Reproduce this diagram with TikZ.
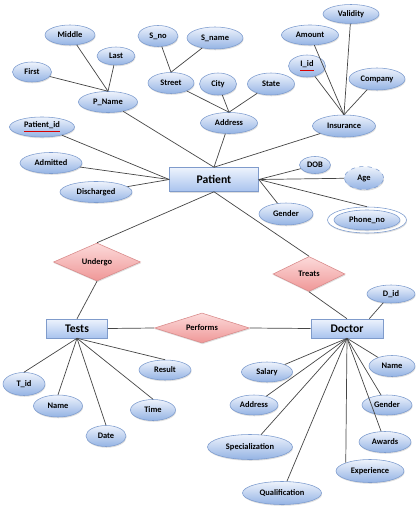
\documentclass[tikz,border=0pt]{standalone}
\usepackage{fontspec}
\setmainfont{Carlito}
\usetikzlibrary{shapes.geometric,shadows}

\definecolor{attrtop}{HTML}{EEF3FC}
\definecolor{attrbot}{HTML}{94B3E4}
\definecolor{attrline}{HTML}{7C9BCE}
\definecolor{enttop}{HTML}{EDF3FD}
\definecolor{entbot}{HTML}{A9C3EE}
\definecolor{entline}{HTML}{7F9BCB}
\definecolor{reltop}{HTML}{FCDADA}
\definecolor{relbot}{HTML}{EF9797}
\definecolor{relline}{HTML}{D88A8A}
\definecolor{edge}{HTML}{454545}

\newcommand{\errline}[1]{\rlap{#1}{\color{red!85!black}\underline{\phantom{#1}}}}

\tikzset{wh/.style 2 args={minimum width=#1*0.025cm, minimum height=#2*0.025cm}}

\begin{document}
\begin{tikzpicture}
[x=0.025cm, y=-0.025cm, font=\fontsize{6}{7}\selectfont\bfseries]
\tikzstyle{soft}=[drop shadow={shadow xshift=0.4pt, shadow yshift=-0.9pt, opacity=0.25}]
\tikzstyle{attr}=[ellipse, draw=attrline, top color=attrtop, bottom color=attrbot, inner sep=0mm, soft]
\tikzstyle{entity}=[rectangle, draw=entline, top color=enttop, bottom color=entbot, inner sep=0mm, soft, font=\fontsize{8.3}{9}\selectfont\bfseries]
\tikzstyle{rel}=[diamond, draw=relline, top color=reltop, bottom color=relbot, inner sep=0mm, soft]
\tikzstyle{link}=[draw=edge, line width=0.5pt]

\useasboundingbox (0,0) rectangle (420,512);

% entities and relationships
\node[entity, wh={89}{24}]	(Patient)	at (214,179.5)	{Patient};
\node[entity, wh={61}{19}]	(Tests)		at (77,328.5)	{Tests};
\node[entity, wh={72}{19}]	(Doctor)	at (347,328.5)	{Doctor};
\node[rel, wh={87}{38}, aspect=2.3]	(Undergo)	at (97,262)	{Undergo};
\node[rel, wh={72}{35}, aspect=2.05]	(Treats)	at (309,274)	{Treats};
\node[rel, wh={95}{30}, aspect=3.2]	(Performs)	at (202,328)	{Performs};

% patient attributes
\node[attr, wh={50}{20}]	(Middle)	at (70,35)	{Middle};
\node[attr, wh={38}{18}]	(Last)		at (116,56)	{Last};
\node[attr, wh={39}{20}]	(First)		at (32,72)	{First};
\node[attr, wh={59}{21}]	(P_Name)	at (108,102)	{P\_Name};
\node[attr, wh={40}{21}]	(S_no)		at (158,36)	{S\_no};
\node[attr, wh={56}{22}]	(S_name)	at (215,38)	{S\_name};
\node[attr, wh={46}{21}]	(Street)	at (171,83)	{Street};
\node[attr, wh={37}{22}]	(City)		at (218,84)	{City};
\node[attr, wh={47}{22}]	(State)		at (271,84)	{State};
\node[attr, wh={57}{21}]	(Address)	at (229,123)	{Address};
\node[attr, wh={56}{19}]	(Validity)	at (351,14)	{Validity};
\node[attr, wh={57}{20}]	(Amount)	at (310,35)	{Amount};
\node[attr, wh={37}{22}]	(I_id)		at (307,66)	{\errline{I\_id}};
\node[attr, wh={56}{22}]	(Company)	at (377,79)	{Company};
\node[attr, wh={63}{22}]	(Insurance)	at (344,126)	{Insurance};
\node[attr, wh={65}{20}]	(Patient_id)	at (42,127)	{\errline{Patient\_id}};
\node[attr, wh={62}{21}]	(Admitted)	at (51,163)	{Admitted};
\node[attr, wh={72}{21}]	(Discharged)	at (96,192)	{Discharged};
\node[attr, wh={31}{17}]	(DOB)		at (315,165)	{DOB};
\node[attr, wh={39}{23}, dashed]	(Age)	at (364,178)	{Age};
\node[attr, wh={54}{22}]	(Gender)	at (286,214)	{Gender};
\node[ellipse, draw=attrline, fill=white, wh={79}{26}, soft]	(Phone)	at (367,220)	{};
\node[attr, wh={66}{20}]	(Phone_no)	at (367,220)	{Phone\_no};

% test attributes
\node[attr, wh={42}{23}]	(T_id)		at (24,384)	{T\_id};
\node[attr, wh={49}{22}]	(T_name)	at (58,406)	{Name};
\node[attr, wh={40}{21}]	(T_date)	at (106,436)	{Date};
\node[attr, wh={45}{21}]	(T_time)	at (153,410)	{Time};
\node[attr, wh={52}{20}]	(T_result)	at (165,370)	{Result};

% doctor attributes
\node[attr, wh={48}{18}]	(D_id)		at (391,294)	{D\_id};
\node[attr, wh={51}{20}]	(D_salary)	at (267,372)	{Salary};
\node[attr, wh={46}{21}]	(D_name)	at (392,366)	{Name};
\node[attr, wh={48}{20}]	(D_address)	at (254,405)	{Address};
\node[attr, wh={50}{20}]	(D_gender)	at (387,405)	{Gender};
\node[attr, wh={85}{25}]	(D_spec)	at (250,447)	{Specialization};
\node[attr, wh={52}{21}]	(D_awards)	at (385,442)	{Awards};
\node[attr, wh={68}{23}]	(D_exp)		at (370,471)	{Experience};
\node[attr, wh={79}{23}]	(D_qual)	at (282,493)	{Qualification};

\draw[link]	(P_Name.north)--(First);
\draw[link]	(P_Name.north)--(Middle);
\draw[link]	(P_Name.north)--(Last);
\draw[link]	(Street.north)--(S_no);
\draw[link]	(Street.north)--(S_name);
\draw[link]	(Address.north)--(Street);
\draw[link]	(Address.north)--(City);
\draw[link]	(Address.north)--(State);
\draw[link]	(Insurance.north)--(Validity);
\draw[link]	(Insurance.north)--(Amount);
\draw[link]	(Insurance.north)--(I_id);
\draw[link]	(Insurance.north)--(Company);

\draw[link]	(Patient.north)--(P_Name);
\draw[link]	(Patient.north)--(Address);
\draw[link]	(Patient.north)--(Insurance);
\draw[link]	(Patient.west)--(Patient_id);
\draw[link]	(Patient.west)--(Admitted);
\draw[link]	(Patient.west)--(Discharged);
\draw[link]	(Patient.east)--(DOB);
\draw[link]	(Patient.east)--(Age);
\draw[link]	(Patient.east)--(Gender);
\draw[link]	(Patient.east)--(Phone.north);

\draw[link]	(Patient.south)--(Undergo.north);
\draw[link]	(Patient.south)--(Treats.north);
\draw[link]	(Undergo.south)--(Tests.north);
\draw[link]	(Treats.south)--(Doctor.north);
\draw[link]	(Tests.east)--(Performs.west);
\draw[link]	(Performs.east)--(Doctor.west);

\draw[link]	(Tests.south)--(T_id.north);
\draw[link]	(Tests.south)--(T_name.north);
\draw[link]	(Tests.south)--(T_date.north);
\draw[link]	(Tests.south)--(T_time.north);
\draw[link]	(Tests.south)--(T_result.north);

\draw[link]	([xshift=-0.35cm]Doctor.north east)--(D_id);
\draw[link]	(Doctor.south)--(D_salary);
\draw[link]	(Doctor.south)--(D_name);
\draw[link]	(Doctor.south)--(D_address);
\draw[link]	(Doctor.south)--(D_gender);
\draw[link]	(Doctor.south)--(D_spec);
\draw[link]	(Doctor.south)--(D_awards);
\draw[link]	(Doctor.south)--(D_exp.north west);
\draw[link]	(Doctor.south)--(D_qual);

\end{tikzpicture}
\end{document}
